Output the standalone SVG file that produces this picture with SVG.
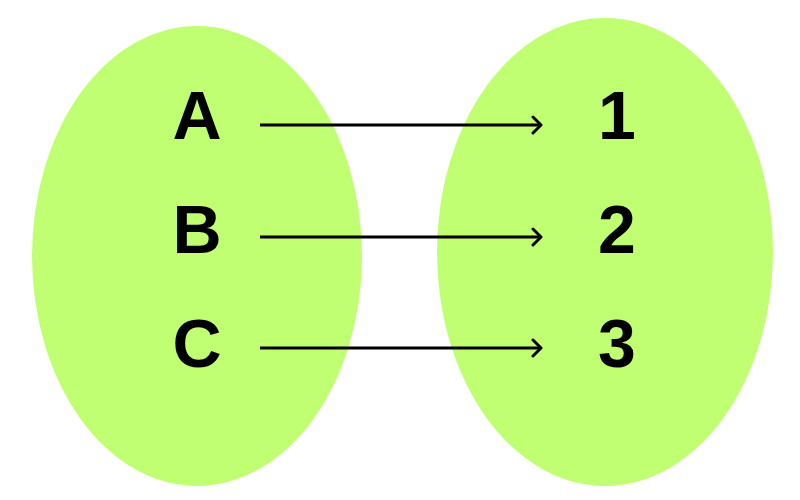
<svg xmlns="http://www.w3.org/2000/svg" width="800" height="500" viewBox="0 0 800 500">
<style>
.set{fill:#C1FF72}
.lbl{font-family:"Liberation Sans",Arial,sans-serif;font-weight:bold;font-size:68px;fill:#000;text-anchor:middle}
.conn{stroke:#000;stroke-width:3;fill:none}
</style>
<defs>
<marker id="ah" markerUnits="userSpaceOnUse" markerWidth="16" markerHeight="20" refX="13" refY="10" orient="auto" viewBox="0 0 16 20">
<path d="M5,2 L13,10 L5,18" fill="none" stroke="#000" stroke-width="3" stroke-linecap="round" stroke-linejoin="round"/>
</marker>
</defs>
<rect width="800" height="500" fill="#fff"/>
<g id="domain"><ellipse class="set" cx="197" cy="256" rx="165" ry="230"/></g>
<g id="codomain"><ellipse class="set" cx="605" cy="252" rx="168" ry="234"/></g>
<g id="node-A"><text class="lbl" x="197" y="139">A</text></g>
<g id="node-B"><text class="lbl" x="197" y="253">B</text></g>
<g id="node-C"><text class="lbl" x="197" y="367">C</text></g>
<g id="node-1"><text class="lbl" x="617" y="139">1</text></g>
<g id="node-2"><text class="lbl" x="617" y="253">2</text></g>
<g id="node-3"><text class="lbl" x="617" y="367">3</text></g>
<g id="connectors">
<line class="conn" x1="260" y1="125" x2="541" y2="125" marker-end="url(#ah)"/>
<line class="conn" x1="260" y1="237" x2="541" y2="237" marker-end="url(#ah)"/>
<line class="conn" x1="260" y1="348" x2="541" y2="348" marker-end="url(#ah)"/>
</g>
</svg>
